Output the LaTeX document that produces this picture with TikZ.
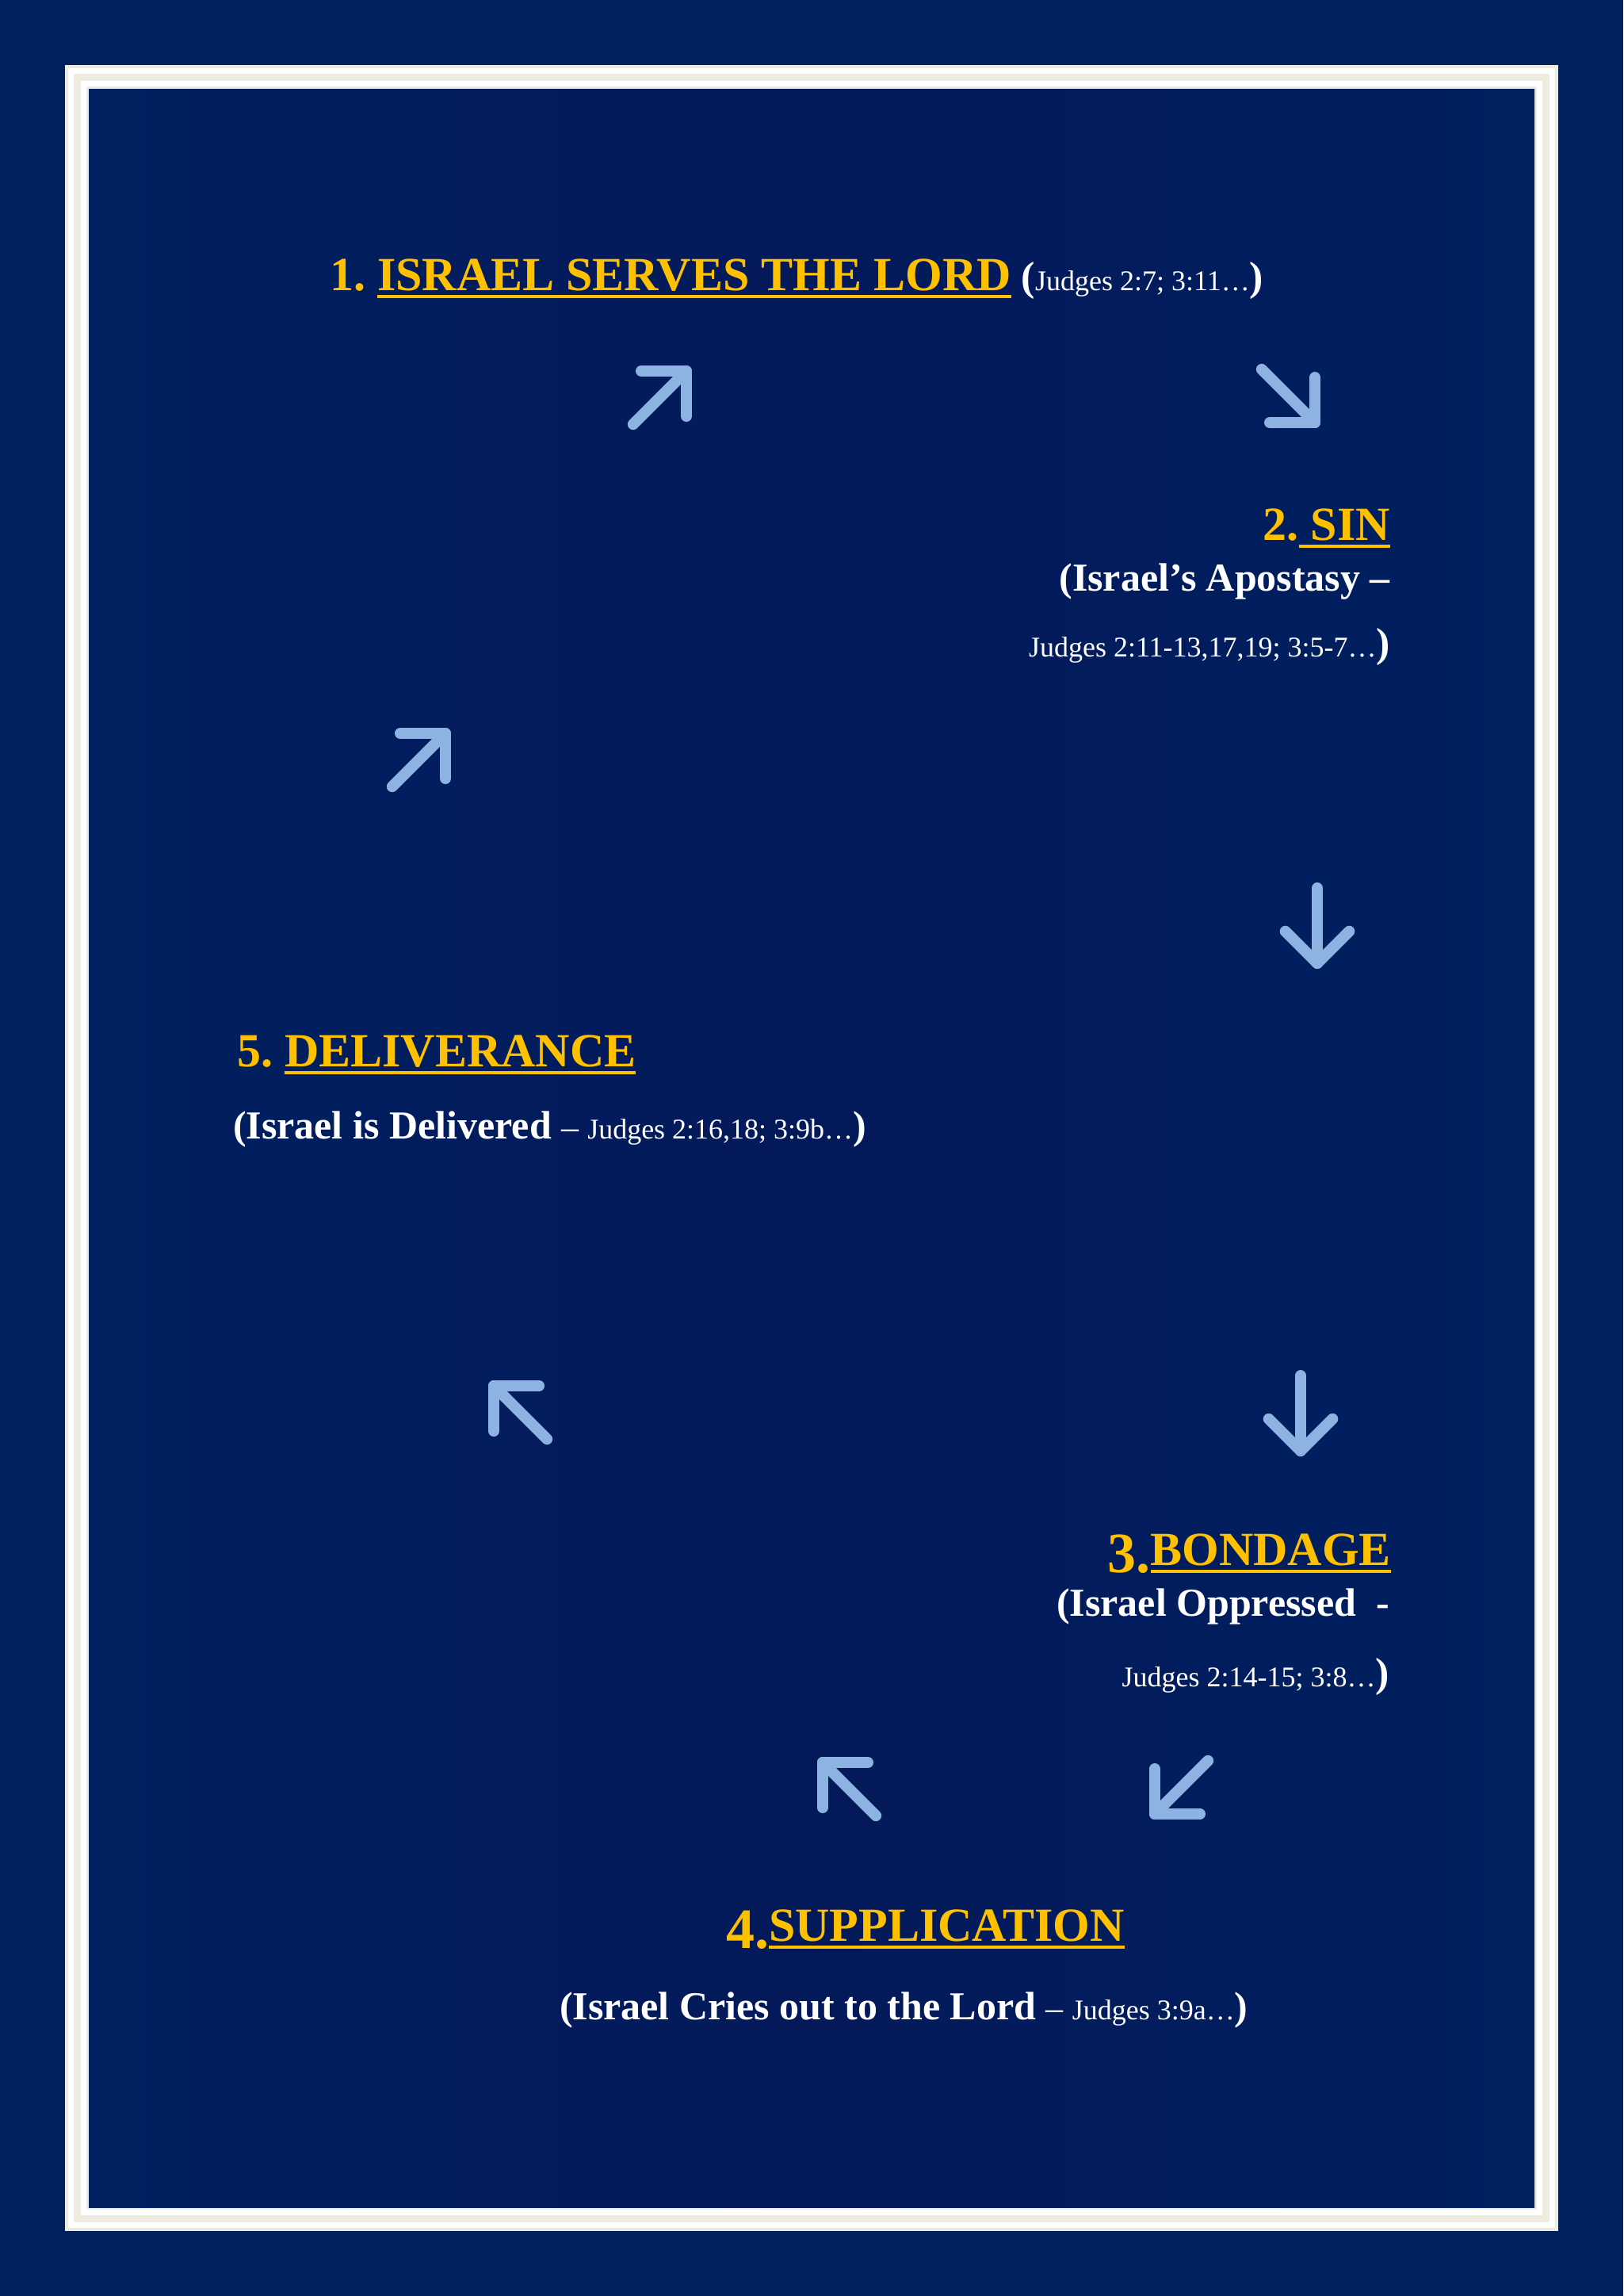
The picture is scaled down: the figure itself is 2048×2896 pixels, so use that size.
\documentclass[tikz,border=0pt]{standalone}
\usepackage{fontspec}
\setmainfont{Liberation Serif}
\usepackage{tikz}
\usetikzlibrary{
  positioning,
  calc
}
\definecolor{bgNavy}{HTML}{002060}
\definecolor{deepNavy}{HTML}{04195A}
\definecolor{frameCream}{HTML}{EEECE1}
\definecolor{myGold}{HTML}{FFC000}
\definecolor{arrowBlue}{HTML}{8DB3E2}

\tikzstyle{txt}=[inner sep=0pt, outer sep=0pt, text=white]
\tikzstyle{head}=[txt, text=myGold, font=\bfseries\fontsize{60}{60}\selectfont]
\tikzstyle{bignum}=[txt, text=myGold, font=\bfseries\fontsize{72}{72}\selectfont]
\tikzstyle{sub}=[txt, font=\bfseries\fontsize{50}{50}\selectfont]
\tikzstyle{ref}=[txt, font=\fontsize{36}{36}\selectfont]
\tikzstyle{uline}=[myGold, line width=4.5pt]
\tikzstyle{cyc}=[arrowBlue, line width=14pt, line cap=round, line join=round]

\newcommand{\bigparen}[1]{{\bfseries\fontsize{52}{52}\selectfont #1}}
\newcommand{\refpart}[1]{{\mdseries\fontsize{44}{44}\selectfont –\ \fontsize{36}{36}\selectfont #1}}

\begin{document}
\begin{tikzpicture}[x=1pt, y=-1pt]
      % 矢印 (先端, 向き)
      \def\cycarrow#1#2#3{
        \draw[cyc] ($(#1,#2)+(#3+180:95)$) -- (#1,#2);
        \draw[cyc] ($(#1,#2)+(#3+135:57)$) -- (#1,#2) -- ($(#1,#2)+(#3-135:57)$);
      }

      % 背景と枠
      \fill[bgNavy] (0,0) rectangle (2048,2896);
      \fill[frameCream] (82,82) rectangle (1966,2814);
      \fill[white] (86,86) rectangle (1962,2810);
      \fill[frameCream] (93,93) rectangle (1955,2803);
      \fill[white] (102,102) rectangle (1946,2794);
      \fill[frameCream] (109,109) rectangle (1939,2787);
      \shade[left color=bgNavy, right color=bgNavy, middle color=deepNavy]
        (112,112) rectangle (1936,2784);

      % 1
      \node[head, anchor=base west] (h1) at (476,366) {ISRAEL SERVES THE LORD};
      \node[head, base left=15pt of h1] (n1) {1.};
      \node[ref, base right=0pt of h1] (r1) {\bigparen{\ (}Judges 2:7; 3:11…\bigparen{)}};
      \draw[uline] ($(h1.base west)+(0,8)$) -- ($(h1.base east)+(0,8)$);

      % 2
      \node[head, anchor=base east] (h2) at (1754,681) {\ SIN};
      \node[head, base left=0pt of h2] (n2) {2.};
      \draw[uline] ($(h2.base west)+(0,8)$) -- ($(h2.base east)+(0,8)$);
      \node[sub, anchor=base east] (s2) at (1754,745) {(Israel’s Apostasy –};
      \node[ref, anchor=base east] (r2) at (1754,828) {Judges 2:11-13,17,19; 3:5-7…\bigparen{)}};

      % 5
      \node[head, anchor=base west] (h5) at (359,1345) {DELIVERANCE};
      \node[head, base left=15pt of h5] (n5) {5.};
      \draw[uline] ($(h5.base west)+(0,8)$) -- ($(h5.base east)+(0,8)$);
      \node[sub, anchor=base west] (s5) at (294,1436) {(Israel is Delivered \refpart{Judges 2:16,18; 3:9b…})};

      % 3
      \node[head, anchor=base east] (h3) at (1755,1974) {BONDAGE};
      \node[bignum, base left=0pt of h3, yshift=-9pt] (n3) {3.};
      \draw[uline] ($(h3.base west)+(0,8)$) -- ($(h3.base east)+(0,8)$);
      \node[sub, anchor=base east] (s3) at (1753,2038) {(Israel Oppressed\ \ -};
      \node[ref, anchor=base east] (r3) at (1753,2127) {Judges 2:14-15; 3:8…\bigparen{)}};

      % 4
      \node[head, anchor=base west] (h4) at (970,2448) {SUPPLICATION};
      \node[bignum, base left=0pt of h4, yshift=-9pt] (n4) {4.};
      \draw[uline] ($(h4.base west)+(0,8)$) -- ($(h4.base east)+(0,8)$);
      \node[sub, anchor=base west] (s4) at (706,2547) {(Israel Cries out to the Lord \refpart{Judges 3:9a…})};

      % 循環の矢印
      \foreach \px/\py/\ang in {866/468/-45, 1659/533/45, 562/925/-45, 1662/1215/90,
                                1641/1830/90, 623/1748/-135, 1038/2223/-135, 1457/2288/135}
        \cycarrow{\px}{\py}{\ang};
    \end{tikzpicture}
\end{document}
